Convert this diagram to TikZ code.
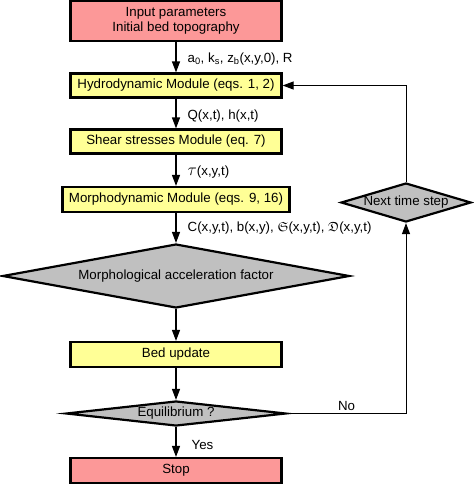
\documentclass[tikz,border=0pt]{standalone}
\usepackage{fontspec}
\setmainfont{Liberation Sans}
\usepackage{amsfonts}
\usepackage{amssymb}
\usepackage{tikz}
\usetikzlibrary{arrows.meta,positioning}
\usetikzlibrary{shapes.geometric}
\definecolor{stoppink}{RGB}{252,152,152}
\definecolor{modyellow}{RGB}{255,255,150}
\definecolor{decgray}{RGB}{192,192,192}
\tikzstyle{arrow} = [line width=1.3pt,-{Triangle[length=11pt,width=8pt]}]
\tikzstyle{loop} = [line width=1pt,-{Triangle[length=11pt,width=8pt]}]
\tikzstyle{termbox} = [draw, line width=2.2pt, fill=stoppink, minimum width=211pt, align=center, inner sep=0pt]
\tikzstyle{modbox} = [draw, line width=2.2pt, fill=modyellow, minimum width=211pt, minimum height=24pt, inner sep=0pt]
\tikzstyle{decision} = [draw, line width=2.2pt, fill=decgray, diamond, inner sep=0pt]
\tikzstyle{lbl} = [right, inner sep=0pt, xshift=11pt]

\begin{document}
\begin{tikzpicture}[x=1pt,y=-1pt,font=\fontsize{13.3}{15.5}\selectfont]
            \useasboundingbox (0,0) rectangle (474,485);
            % main chain
            \node[termbox, minimum height=40pt] (input) at (176,21)
            {Input parameters\\Initial bed topography};
            \node[modbox] (hydro) at (176,85.5) {Hydrodynamic Module (eqs. 1, 2)};
            \node[modbox] (shear) at (176,141.5) {Shear stresses Module (eq. 7)};
            \node[modbox, minimum width=227pt, minimum height=25pt] (morpho) at (176,199.5)
            {Morphodynamic Module (eqs. 9, 16)};
            \node[decision, aspect=5.4, minimum width=347pt, minimum height=64pt] (accel)
            at (176,276) {Morphological acceleration factor};
            \node[modbox, minimum height=25pt] (bed) at (176,354.5) {Bed update};
            \node[decision, aspect=8.8, minimum width=220pt, minimum height=25pt] (equil)
            at (176,413.5) {Equilibrium ?};
            \node[termbox, minimum height=25pt] (stop) at (176,470.5) {Stop};
            \node[decision, aspect=3.3, minimum width=130pt, minimum height=39pt] (next)
            at (406,202.5) {Next time step};
            % connectors
            \draw[arrow] (input) -- node[lbl, yshift=-2pt]
            {a\textsubscript{0}, k\textsubscript{s}, z\textsubscript{b}(x,y,0), R} (hydro);
            \draw[arrow] (hydro) -- node[lbl, yshift=-3pt] {Q(x,t), h(x,t)} (shear);
            \draw[arrow] (shear) -- node[lbl, yshift=-2pt] {{\LARGE$\tau$}(x,y,t)} (morpho);
            \draw[arrow] (morpho) -- node[lbl]
            {C(x,y,t), b(x,y), $\mathfrak{S}$(x,y,t), $\mathfrak{D}$(x,y,t)} (accel);
            \draw[arrow] (accel) -- (bed);
            \draw[arrow] (bed) -- (equil);
            \draw[arrow] (equil) -- node[lbl, yshift=-3pt, xshift=4pt] {Yes} (stop);
            % time loop
            \draw[loop] (equil.east) -| node[pos=0.25, above, inner sep=2pt] {No} (next.south);
            \draw[loop] (next.north) |- (hydro.east);
        \end{tikzpicture}
\end{document}
